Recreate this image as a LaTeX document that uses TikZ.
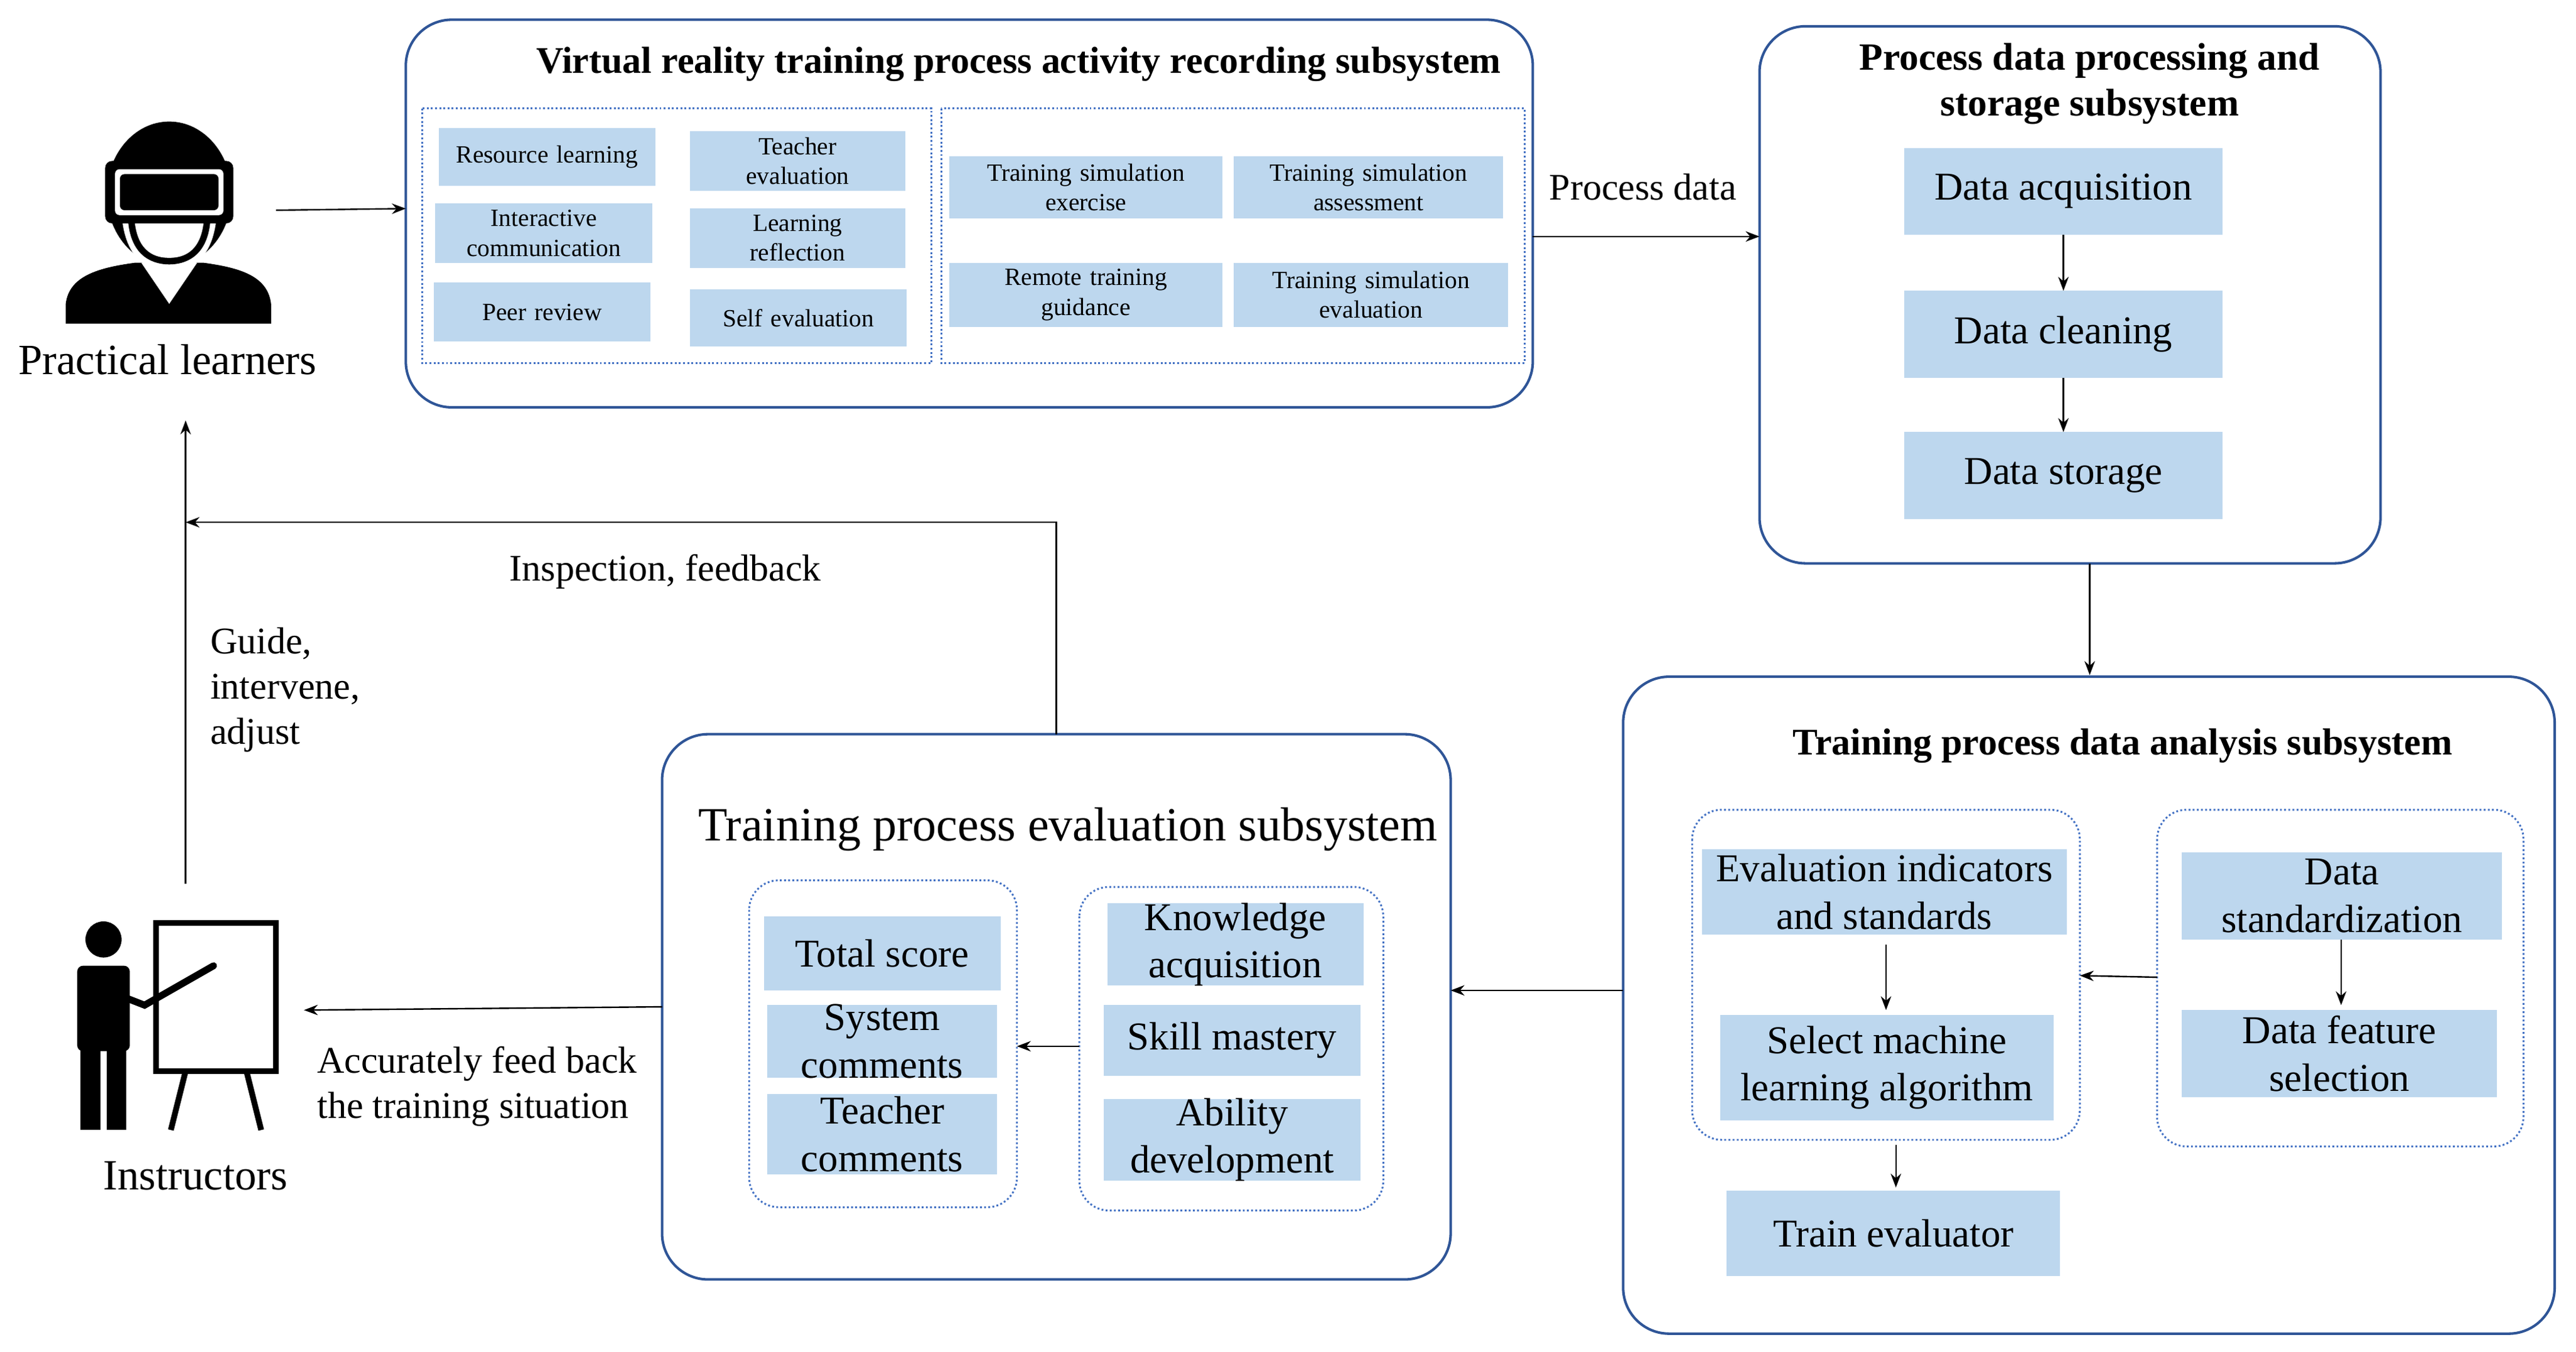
\documentclass[tikz,border=0pt]{standalone}
\usepackage{fontspec}
\setmainfont{Liberation Serif}
\usetikzlibrary{arrows.meta}
\newcommand{\fpx}[1]{\fontsize{\fpeval{#1*1.59}}{\fpeval{#1*1.59*1.2}}\selectfont}
\definecolor{bxfill}{HTML}{BDD7EE}
\definecolor{frame}{HTML}{2F5597}
\definecolor{dot}{HTML}{4472C4}
\begin{document}
\begin{tikzpicture}[x=0.05cm,y=-0.05cm,
 sub/.style={draw=frame,line width=2.2pt,rounded corners=1.4cm},
 grp/.style={draw=dot,line width=1.6pt,dotted,rounded corners=0.9cm},
 grpsq/.style={draw=dot,line width=1.6pt,dotted},
 bx/.style={fill=bxfill,draw=none},
 arr/.style={-{Stealth[length=12pt,width=9pt]},line width=1.3pt},
 ln/.style={line width=1.3pt}]
\useasboundingbox (0,0) rectangle (1568,823);
\fill[white] (0,0) rectangle (1568,823);
% subsystem 1
\draw[sub] (247,12) rectangle (933,248);
\node[font=\fpx{20.5}\bfseries] (t1) at (620,39) {Virtual reality training process activity recording subsystem};
\draw[grpsq] (257,66) rectangle (567,221);
\draw[grpsq] (573,66) rectangle (928,221);
\newcommand{\smbox}[6]{\fill[bx] (#1,#2) rectangle (#3,#4); \node[font=\fpx{13.5},align=center,text width=\fpeval{(#3-#1)*0.05}cm] (#5) at (\fpeval{(#1+#3)/2},\fpeval{(#2+#4)/2}) {#6};}
\smbox{267}{78}{399}{113}{s1}{Resource learning}
\smbox{420}{80}{551}{116}{s2}{Teacher\\evaluation}
\smbox{265}{124}{397}{160}{s3}{Interactive\\communication}
\smbox{420}{127}{551}{163}{s4}{Learning\\reflection}
\smbox{264}{172}{396}{208}{s5}{Peer review}
\smbox{420}{176}{552}{211}{s6}{Self evaluation}
\smbox{578}{95}{744}{133}{s7}{Training simulation\\exercise}
\smbox{751}{95}{915}{133}{s8}{Training simulation\\assessment}
\smbox{578}{160}{744}{199}{s9}{Remote training\\guidance}
\smbox{751}{160}{918}{199}{s10}{Training simulation\\evaluation}
% subsystem 2
\draw[sub] (1071,16) rectangle (1449,343);
\node[font=\fpx{21}\bfseries,align=center] (t2) at (1272,51) {Process data processing and\\storage subsystem};
\newcommand{\bgbox}[6]{\fill[bx] (#1,#2) rectangle (#3,#4); \node[font=\fpx{21.5},align=center,inner sep=0pt] (#5) at (\fpeval{(#1+#3)/2},\fpeval{(#2+#4)/2}) {#6};}
\bgbox{1159}{90}{1353}{143}{da}{Data acquisition}
\bgbox{1159}{177}{1353}{230}{dc}{Data cleaning}
\bgbox{1159}{263}{1353}{316}{ds}{Data storage}
\coordinate (da1) at (1256,143); \coordinate (dc0) at (1256,177);
\coordinate (dc1) at (1256,230); \coordinate (ds0) at (1256,263);
\draw[arr] (da1) -- (dc0);
\draw[arr] (dc1) -- (ds0);
% subsystem 3
\draw[sub] (988,412) rectangle (1555,812);
\node[font=\fpx{20.5}\bfseries] (t3) at (1292,454) {Training process data analysis subsystem};
\draw[grp] (1030,493) rectangle (1266,694);
\draw[grp] (1313,493) rectangle (1536,698);
\bgbox{1036}{517}{1258}{569}{ei}{Evaluation indicators\\and standards}
\bgbox{1047}{618}{1250}{682}{ml}{Select machine\\learning algorithm}
\bgbox{1328}{519}{1523}{572}{dsd}{Data\\standardization}
\bgbox{1328}{615}{1520}{668}{dfs}{Data feature\\selection}
\bgbox{1051}{725}{1254}{777}{te}{Train evaluator}
\coordinate (a1) at (1148,575); \coordinate (a2) at (1148,615);
\coordinate (b1) at (1425,572); \coordinate (b2) at (1425,612);
\coordinate (c1) at (1313,595); \coordinate (c2) at (1266,594);
\coordinate (d1) at (1154,697); \coordinate (d2) at (1154,723);
\draw[arr] (a1) -- (a2); \draw[arr] (b1) -- (b2);
\draw[arr] (c1) -- (c2); \draw[arr] (d1) -- (d2);
% subsystem 4
\draw[sub] (403,447) rectangle (883,779);
\node[font=\fpx{26}] (t4) at (650,505) {Training process evaluation subsystem};
\draw[grp] (456,536) rectangle (619,735);
\draw[grp] (657,540) rectangle (842,737);
\bgbox{465}{558}{609}{603}{ts}{Total score}
\bgbox{467}{612}{607}{656}{sc}{System\\comments}
\bgbox{467}{666}{607}{715}{tc}{Teacher\\comments}
\bgbox{674}{550}{830}{600}{ka}{Knowledge\\acquisition}
\bgbox{672}{612}{828}{655}{sm}{Skill mastery}
\bgbox{672}{669}{828}{719}{ad}{Ability\\development}
\coordinate (e1) at (657,637); \coordinate (e2) at (619,637);
\draw[arr] (e1) -- (e2);
% connections between subsystems
\coordinate (p1) at (933,144); \coordinate (p2) at (1071,144);
\draw[arr] (p1) -- (p2);
\node[font=\fpx{20.5}] (pd) at (1000,114) {Process data};
\coordinate (q1) at (1272,343); \coordinate (q2) at (1272,411);
\draw[arr] (q1) -- (q2);
\coordinate (r1) at (988,603); \coordinate (r2) at (883,603);
\draw[arr] (r1) -- (r2);
\coordinate (f0) at (643,447); \coordinate (f1) at (643,318); \coordinate (f2) at (113,318);
\draw[arr] (f0) -- (f1) -- (f2);
\node[font=\fpx{20.5}] (ifb) at (405,348) {Inspection, feedback};
\coordinate (g1) at (113,538); \coordinate (g2) at (113,256);
\draw[arr] (g1) -- (g2);
\node[font=\fpx{20.5},align=left,anchor=north west,inner sep=0pt] (gia) at (128,382) {Guide,\\intervene,\\adjust};
\coordinate (h1) at (403,613); \coordinate (h2) at (185,615);
\draw[arr] (h1) -- (h2);
\node[font=\fpx{20.5},align=left,anchor=north west,inner sep=0pt] (afb) at (193,637) {Accurately feed back\\the training situation};
\coordinate (l1) at (168,128); \coordinate (l2) at (247,127);
\draw[arr] (l1) -- (l2);
% learner icon
\fill[black] (40,197) -- (40,185) .. controls (42,168) and (60,163) .. (82,160) -- (124,160) .. controls (146,163) and (163,168) .. (165,185) -- (165,197) -- cycle;
\fill[white] (86,160) -- (103,185) -- (120,160) -- cycle;
\fill[black] (103,118) ellipse (38 and 44);
\fill[white] (74,130) .. controls (76,160) and (92,165) .. (103,165) .. controls (114,165) and (130,160) .. (132,130) -- cycle;
\fill[black] (78,135) .. controls (80,157) and (94,161) .. (103,161) .. controls (112,161) and (126,157) .. (128,135) -- cycle;
\fill[white] (82,135) .. controls (84,154) and (95,157) .. (103,157) .. controls (111,157) and (122,154) .. (124,135) -- cycle;
\fill[black,rounded corners=6pt] (64,98) rectangle (142,136);
\fill[white,rounded corners=4pt] (70,103) rectangle (136,131);
\fill[black,rounded corners=4pt] (73,106) rectangle (133,128);
\node[font=\fpx{23.5}] (pl) at (102,219) {Practical learners};
% instructor icon
\fill[black] (63,572) circle (11);
\fill[black,rounded corners=5pt] (47,588) rectangle (79,640);
\fill[black] (49,630) rectangle (61,688);
\fill[black] (65,630) rectangle (77,688);
\draw[black,line width=6pt,line cap=round] (70,605) -- (88,612) -- (130,588);
\draw[black,line width=5pt] (95,562) rectangle (168,652);
\draw[black,line width=5pt] (113,652) -- (104,688);
\draw[black,line width=5pt] (150,652) -- (159,688);
\node[font=\fpx{23.5}] (ins) at (119,716) {Instructors};
\end{tikzpicture}
\end{document}
